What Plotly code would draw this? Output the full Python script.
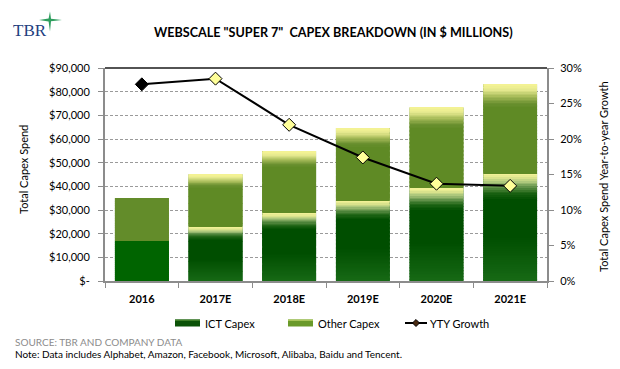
import plotly.graph_objects as go

# ---------------- data ----------------
categories = ["2016", "2017E", "2018E", "2019E", "2020E", "2021E"]
ict_capex = [17000, 23000, 28800, 34200, 39400, 45600]
other_capex = [18000, 22100, 26100, 30400, 33900, 37500]
yty_growth = [27.7, 28.5, 22.0, 17.4, 13.7, 13.4]
left_tickvals = [0, 10000, 20000, 30000, 40000, 50000, 60000, 70000, 80000, 90000]
left_ticktext = ["$-", "$10,000", "$20,000", "$30,000", "$40,000", "$50,000",
                 "$60,000", "$70,000", "$80,000", "$90,000"]
right_tickvals = [0, 5, 10, 15, 20, 25, 30]
right_ticktext = ["0%", "5%", "10%", "15%", "20%", "25%", "30%"]
legend_names = ["ICT Capex", "Other Capex", "YTY Growth"]

FONT = "Lato"

# ---------------- layout geometry helpers (pixels -> paper) ----------------
W, H = 620, 369
L, R, T, B = 105, 73, 68, 88
PW, PH = W - L - R, H - T - B


def px(x):
    return (x - L) / PW


def py(y):
    return (H - B - y) / PH


def path(points):
    s = "M " + " L ".join("%.5f,%.5f" % (px(x), py(y)) for x, y in points) + " Z"
    return s


def hex2rgb(h):
    h = h.lstrip("#")
    return tuple(int(h[i:i + 2], 16) for i in (0, 2, 4))


def grad(stops, t):
    for (t0, c0), (t1, c1) in zip(stops, stops[1:]):
        if t0 <= t <= t1:
            a = 0 if t1 == t0 else (t - t0) / (t1 - t0)
            r0, g0, b0 = hex2rgb(c0)
            r1, g1, b1 = hex2rgb(c1)
            return "rgb(%d,%d,%d)" % (r0 + (r1 - r0) * a, g0 + (g1 - g0) * a, b0 + (b1 - b0) * a)
    return stops[-1][1]


ict_stops = [(0.0, "#f6f49a"), (0.035, "#e2e890"), (0.08, "#a8c47a"), (0.13, "#5a8c44"),
             (0.18, "#1d6414"), (0.24, "#004e00"), (0.58, "#004e00"), (1.0, "#186a16")]
oth_stops = [(0.0, "#f6f496"), (0.06, "#e4e88e"), (0.13, "#a8bc5a"), (0.21, "#6a9030"),
             (0.26, "#5f8a25"), (1.0, "#5f8a25")]
ICT_2016 = "#006400"
OTH_2016 = "#638c2a"

fig = go.Figure()

# base bars
fig.add_trace(go.Bar(x=categories, y=ict_capex, base=[0] * len(categories), name=legend_names[0],
                     marker=dict(color=[ICT_2016] + ["#004e00"] * 5, line=dict(width=0)),
                     hoverinfo="skip", showlegend=False))
fig.add_trace(go.Bar(x=categories, y=other_capex, base=ict_capex, name=legend_names[1],
                     marker=dict(color=[OTH_2016] + ["#5f8a25"] * 5, line=dict(width=0)),
                     hoverinfo="skip", showlegend=False))

# gradient slices
N = 60
for seg_bottom, seg_h, stops, c2016 in ((
        [0] * len(categories), ict_capex, ict_stops, ICT_2016),
        (ict_capex, other_capex, oth_stops, OTH_2016)):
    for k in range(N):
        fb = k / N
        tmid = 1 - (k + 0.5) / N
        col = grad(stops, tmid)
        fig.add_trace(go.Bar(
            x=categories,
            y=[h / N for h in seg_h],
            base=[b + h * fb for b, h in zip(seg_bottom, seg_h)],
            marker=dict(color=[c2016] + [col] * 5, line=dict(width=0)),
            showlegend=False, hoverinfo="skip"))

# growth line
fig.add_trace(go.Scatter(x=categories, y=yty_growth, yaxis="y2", name=legend_names[2],
                         mode="lines+markers",
                         line=dict(color="black", width=2),
                         marker=dict(symbol="diamond", size=10,
                                     color=["#000000"] + ["#ffff99"] * 5,
                                     line=dict(color="#000000", width=1)),
                         hoverinfo="skip", showlegend=False))

fig.update_layout(
    width=W, height=H,
    margin=dict(l=L, r=R, t=T, b=B, pad=0),
    paper_bgcolor="white", plot_bgcolor="white",
    barmode="overlay", bargap=0.27,
    font=dict(family=FONT, size=11, color="black"),
    showlegend=False,
    xaxis=dict(type="category", showgrid=False, showline=True, linecolor="#8c8c8c", linewidth=2,
               ticks="outside", tickson="boundaries", ticklen=5, tickcolor="#8c8c8c",
               ticklabelstandoff=7,
               tickfont=dict(size=11, color="black", family=FONT, weight="bold"),
               fixedrange=True),
    yaxis=dict(range=[0, 90000], tickvals=left_tickvals, ticktext=left_ticktext,
               showgrid=True, gridcolor="#9a9a9a", griddash="3px,2px", gridwidth=1,
               showline=True, linecolor="#8c8c8c", linewidth=2,
               ticks="outside", ticklen=5, tickcolor="#8c8c8c", ticklabelstandoff=6,
               tickfont=dict(size=11), zeroline=False),
    yaxis2=dict(range=[0, 30], overlaying="y", side="right", tickvals=right_tickvals,
                ticktext=right_ticktext, showgrid=False, showline=True, linecolor="#8c8c8c",
                linewidth=2, ticks="outside", ticklen=5, tickcolor="#8c8c8c",
                ticklabelstandoff=4, tickfont=dict(size=11), zeroline=False),
)

GREEN = "#2e9e5e"
shapes = [
    dict(type="line", xref="paper", yref="paper", x0=0, x1=1, y0=1, y1=1,
         line=dict(color="#1a1a1a", width=1.5)),
    # logo star
    dict(type="path", xref="paper", yref="paper",
         path=path([(50, 11.5), (51.0, 18.8), (62, 20), (51.0, 21.2), (50, 31.5),
                    (48.6, 21.4), (39, 20), (48.6, 18.6)]),
         fillcolor=GREEN, line=dict(width=0)),
    # legend: ICT swatch
    dict(type="rect", xref="paper", yref="paper", x0=px(175), x1=px(200), y0=py(326.5), y1=py(319.5),
         fillcolor="#0b5208", line=dict(width=0)),
    dict(type="rect", xref="paper", yref="paper", x0=px(175), x1=px(200), y0=py(321), y1=py(319.5),
         fillcolor="#3f7f2a", line=dict(width=0)),
    # legend: Other swatch
    dict(type="rect", xref="paper", yref="paper", x0=px(288), x1=px(313), y0=py(326.5), y1=py(319.5),
         fillcolor="#6a9a2a", line=dict(width=0)),
    dict(type="rect", xref="paper", yref="paper", x0=px(288), x1=px(313), y0=py(321), y1=py(319.5),
         fillcolor="#a9c65a", line=dict(width=0)),
    # legend: YTY line + diamond
    dict(type="line", xref="paper", yref="paper", x0=px(405), x1=px(427), y0=py(323), y1=py(323),
         line=dict(color="black", width=2)),
    dict(type="path", xref="paper", yref="paper",
         path=path([(416, 319.5), (419.5, 323), (416, 326.5), (412.5, 323)]),
         fillcolor="#4a2a10", line=dict(color="black", width=1)),
]
fig.update_layout(shapes=shapes)

annotations = [
    dict(text='WEBSCALE "SUPER 7"  CAPEX BREAKDOWN (IN $ MILLIONS)', x=px(152), y=py(32),
         xref="paper", yref="paper", showarrow=False, xanchor="left", yanchor="middle",
         font=dict(size=12.6, family=FONT, weight="bold", color="black")),
    dict(text="TBR", x=px(11), y=py(31), xref="paper", yref="paper", showarrow=False,
         xanchor="left", yanchor="middle",
         font=dict(size=17, family="Liberation Serif", color="#22407f")),
    dict(text="Total Capex Spend", x=px(23), y=py(170), xref="paper", yref="paper",
         showarrow=False, textangle=-90, xanchor="center", yanchor="middle",
         font=dict(size=11)),
    dict(text="Total Capex Spend Year-to-year Growth", x=px(603), y=py(177), xref="paper",
         yref="paper", showarrow=False, textangle=-90, xanchor="center", yanchor="middle",
         font=dict(size=11)),
    dict(text=legend_names[0], x=px(203), y=py(323), xref="paper", yref="paper",
         showarrow=False, xanchor="left", yanchor="middle", font=dict(size=11)),
    dict(text=legend_names[1], x=px(316), y=py(323), xref="paper", yref="paper",
         showarrow=False, xanchor="left", yanchor="middle", font=dict(size=11)),
    dict(text=legend_names[2], x=px(428), y=py(323), xref="paper", yref="paper",
         showarrow=False, xanchor="left", yanchor="middle", font=dict(size=11)),
    dict(text="SOURCE: TBR AND COMPANY DATA", x=px(13), y=py(341.5), xref="paper", yref="paper",
         showarrow=False, xanchor="left", yanchor="middle",
         font=dict(size=10, color="#8c8c8c")),
    dict(text="Note: Data includes Alphabet, Amazon, Facebook, Microsoft, Alibaba, Baidu and Tencent.",
         x=px(13), y=py(354), xref="paper", yref="paper", showarrow=False, xanchor="left",
         yanchor="middle", font=dict(size=10, color="black")),
]
fig.update_layout(annotations=annotations)

fig.write_html("out.html", config={"displayModeBar": False},
               post_script="document.body.style.margin='0';document.body.style.padding='0';")
